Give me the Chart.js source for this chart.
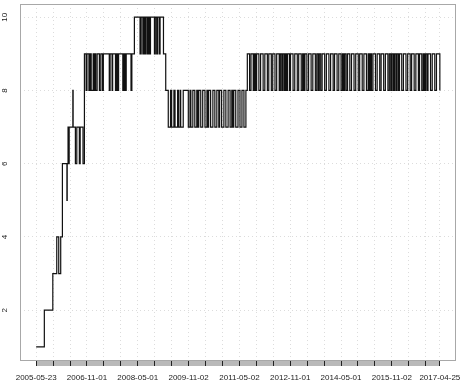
<!DOCTYPE html>
<html>
<head>
<meta charset="utf-8">
<script src="https://cdn.jsdelivr.net/npm/chart.js@4/dist/chart.umd.min.js"></script>
<style>
  body { margin: 0; background: #fff; }
</style>
</head>
<body>
<canvas id="chart" width="474" height="392"></canvas>
<script>
// x = month index from 2005-05-23, [month, level] where each level starts
const ramp = [
  [0, 1], [2.9, 2], [5.9, 3], [7.3, 4], [8.0, 3], [8.7, 4], [9.3, 6], [10.9, 5], [11.0, 6],
  [11.3, 7], [11.5, 6], [11.7, 7], [13.0, 8], [13.1, 7], [13.9, 6], [14.4, 7], [15.3, 6],
  [15.6, 7], [16.6, 6]
]
const plateau9 = [
  [17.1, 9], [17.7, 8], [18.0, 9], [18.7, 8], [19.1, 9], [19.5, 8], [20.2, 9], [20.5, 8],
  [20.8, 9], [21.1, 8], [21.6, 9], [22.4, 8], [22.9, 9], [23.5, 8], [23.8, 9], [25.9, 8],
  [26.2, 9], [26.9, 8], [27.1, 9], [28.1, 8], [28.5, 9], [28.9, 8], [29.2, 9], [30.7, 8],
  [31.1, 9], [31.5, 8], [31.9, 9], [33.6, 8], [33.9, 9]
]
const plateau10 = [
  [34.8, 10], [36.8, 9], [37.2, 10], [37.8, 9], [38.2, 10], [38.6, 9], [38.9, 10], [39.4, 9],
  [39.8, 10], [40.1, 9], [40.5, 10], [41.9, 9], [42.2, 10], [42.7, 9], [43.0, 10], [43.6, 9],
  [43.9, 10], [45.1, 9], [45.9, 8]
]
const trough7 = [
  [46.8, 7], [47.6, 8], [48.0, 7], [48.8, 8], [49.2, 7], [50.1, 8], [50.4, 7], [51.0, 8],
  [51.2, 7], [52.1, 8], [53.9, 7], [54.5, 8], [54.8, 7], [55.5, 8], [56.2, 7], [56.9, 8],
  [57.3, 7], [57.6, 8], [58.3, 7], [59.0, 8], [59.8, 7], [60.5, 8], [60.8, 7], [61.1, 8],
  [61.8, 7], [62.6, 8], [63.3, 7], [64.0, 8], [64.7, 7], [65.0, 8], [65.7, 7], [66.5, 8],
  [67.2, 7], [68.0, 8], [68.7, 7], [69.3, 8], [69.6, 7], [70.0, 8], [70.7, 7], [71.5, 8],
  [72.2, 7], [72.9, 8], [73.6, 7], [74.3, 8]
]
const tail9 = [
  [74.8, 9], [75.6, 8], [76.1, 9], [76.9, 8], [77.3, 9], [77.7, 8], [78.1, 9], [78.9, 8],
  [79.5, 9], [80.4, 8], [81.0, 9], [81.9, 8], [82.4, 9], [83.3, 8], [83.8, 9], [84.6, 8],
  [85.2, 9], [86.1, 8], [86.5, 9], [87.0, 8], [87.3, 9], [87.8, 8], [88.2, 9], [88.6, 8],
  [89.0, 9], [89.7, 8], [90.1, 9], [91.0, 8], [91.6, 9], [92.5, 8], [93.0, 9], [93.9, 8],
  [94.4, 9], [94.8, 8], [95.2, 9], [95.9, 8], [96.5, 9], [97.4, 8], [98.0, 9], [98.9, 8],
  [99.4, 9], [99.9, 8], [100.3, 9], [100.8, 8], [101.3, 9], [102.2, 8], [102.8, 9], [103.7, 8],
  [104.3, 9], [105.2, 8], [105.7, 9], [106.6, 8], [107.2, 9], [108.0, 8], [108.5, 9], [108.9, 8],
  [109.3, 9], [109.8, 8], [110.3, 9], [111.1, 8], [111.7, 9], [112.6, 8], [113.2, 9], [114.1, 8],
  [114.6, 9], [115.5, 8], [116.1, 9], [117.0, 8], [117.6, 9], [118.0, 8], [118.4, 9], [118.8, 8],
  [119.3, 9], [120.2, 8], [120.8, 9], [121.7, 8], [122.2, 9], [123.1, 8], [123.7, 9], [124.6, 8],
  [125.1, 9], [125.6, 8], [126.0, 9], [126.5, 8], [126.9, 9], [127.4, 8], [127.8, 9], [128.3, 8],
  [128.7, 9], [129.5, 8], [130.1, 9], [131.0, 8], [131.6, 9], [132.5, 8], [133.0, 9], [133.9, 8],
  [134.5, 9], [135.4, 8], [135.8, 9], [136.6, 8], [137.1, 9], [137.5, 8], [137.9, 9], [138.4, 8],
  [138.8, 9], [139.7, 8], [140.3, 9], [141.2, 8], [141.8, 9], [143.0, 8]
]

const dateLabels = ['2005-05-23', '2006-11-01', '2008-05-01', '2009-11-02', '2011-05-02',
  '2012-11-01', '2014-05-01', '2015-11-02', '2017-04-25']
const labelAt = [0, 18, 36, 54, 72, 90, 108, 126, 143]
const tickAt = [0, 6, 12, 18, 24, 30, 36, 42, 48, 54, 60, 66, 72, 78, 84, 90, 96, 102,
  108, 114, 120, 126, 132, 138, 143]
const yTicks = [2, 4, 6, 8, 10]

const points = [...ramp, ...plateau9, ...plateau10, ...trough7, ...tail9]
  .map(p => ({ x: p[0], y: p[1] }))

// gray strip under the x axis plus the panel box
const frame = {
  id: 'frame',
  beforeDraw (chart) {
    const { ctx, chartArea } = chart
    const x = chart.scales.x
    ctx.save()
    ctx.fillStyle = '#b9b9b9'
    const x0 = x.getPixelForValue(0)
    ctx.fillRect(x0, chartArea.bottom, x.getPixelForValue(143) - x0, 6)
    ctx.restore()
  },
  afterDraw (chart) {
    const { ctx, chartArea: a } = chart
    ctx.save()
    ctx.strokeStyle = '#a8a8a8'
    ctx.lineWidth = 1
    ctx.strokeRect(a.left + 0.5, a.top + 0.5, a.right - a.left - 1, a.bottom - a.top)
    ctx.restore()
  }
}

const font = { family: 'Liberation Sans, Arial, sans-serif', size: 8 }

new Chart(document.getElementById('chart'), {
  type: 'line',
  data: {
    datasets: [{
      data: points,
      borderColor: '#111',
      borderWidth: 1.2,
      pointRadius: 0,
      stepped: true,
      fill: false
    }]
  },
  options: {
    responsive: false,
    animation: false,
    devicePixelRatio: 1,
    layout: { padding: { left: 0, right: 18, top: 4, bottom: 0 } },
    plugins: { legend: { display: false }, tooltip: { enabled: false } },
    scales: {
      x: {
        type: 'linear',
        min: -5.72,
        max: 148.72,
        afterBuildTicks: s => { s.ticks = tickAt.map(v => ({ value: v })) },
        afterFit: s => { s.height = 32; s.paddingLeft = 0; s.paddingRight = 0 },
        grid: { color: '#dcdcdc', tickColor: '#222', tickLength: 6, tickWidth: 1 },
        border: { display: false, dash: [1, 3] },
        ticks: {
          autoSkip: false,
          maxRotation: 0,
          minRotation: 0,
          padding: 7,
          color: '#222',
          font,
          callback: v => {
            const k = labelAt.indexOf(v)
            return k >= 0 ? dateLabels[k] : ''
          }
        }
      },
      y: {
        type: 'linear',
        min: 0.64,
        max: 10.36,
        afterBuildTicks: s => { s.ticks = yTicks.map(v => ({ value: v })) },
        afterFit: s => { s.width = 20; s.paddingTop = 0; s.paddingBottom = 0 },
        grid: { color: '#dcdcdc', drawTicks: false },
        border: { display: false, dash: [1, 3] },
        ticks: {
          minRotation: 90,
          maxRotation: 90,
          crossAlign: 'center',
          padding: 11,
          color: '#222',
          font
        }
      }
    }
  },
  plugins: [frame]
})
</script>
</body>
</html>
